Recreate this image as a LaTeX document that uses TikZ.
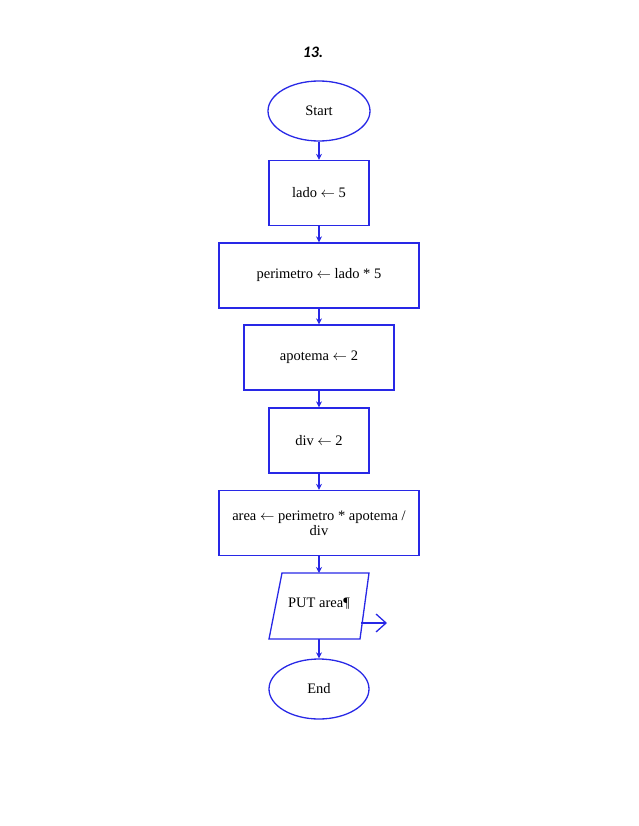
\documentclass[tikz,border=0pt]{standalone}
\usepackage{fontspec}
\setmainfont{Liberation Serif}
\newfontfamily\titlefont{Carlito}
\usetikzlibrary{shapes.geometric,arrows.meta}
\definecolor{fb}{RGB}{40,40,230}
\begin{document}
\begin{tikzpicture}[x=1pt,y=-1pt,
  every node/.style={font=\fontsize{14.5}{15}\selectfont, text=black},
  term/.style={draw=fb, line width=1.3pt, ellipse, minimum width=102pt, minimum height=60pt},
  proc/.style={draw=fb, line width=1.3pt, rectangle, minimum height=65pt, inner sep=1pt},
  conn/.style={draw=fb, line width=1.2pt, -{Stealth[length=6pt,width=6pt]}}]
\useasboundingbox (0,0) rectangle (638,826);
\node[font=\titlefont\bfseries\itshape\fontsize{16}{17}\selectfont] (title) at (313,52) {13.};
\node[term] (start) at (319,111) {Start};
\node[proc, minimum width=100pt] (lado) at (319,193) {lado $\leftarrow$ 5};
\node[proc, minimum width=200pt] (per) at (319,275.5) {perimetro $\leftarrow$ lado * 5};
\node[proc, minimum width=150pt] (apo) at (319,357.5) {apotema $\leftarrow$ 2};
\node[proc, minimum width=100pt] (div) at (319,440.5) {div $\leftarrow$ 2};
\node[proc, minimum width=200pt, align=center] (area) at (319,523) {area $\leftarrow$ perimetro * apotema /\\div};
\coordinate (p1) at (282,573); \coordinate (p2) at (369,573);
\coordinate (p3) at (360,639); \coordinate (p4) at (269,639);
\draw[draw=fb, line width=1.3pt] (p1) -- (p2) -- (p3) -- (p4) -- cycle;
\node (put) at (319,604) {PUT area¶};
\coordinate (ptop) at (319,573); \coordinate (pbot) at (319,639);
\coordinate (oa) at (361,623); \coordinate (ob) at (387,623);
\draw[draw=fb, line width=1.3pt, -{Straight Barb[length=10pt,width=18pt]}] (oa) -- (ob);
\node[term, minimum width=100pt] (end) at (319,689) {End};
\draw[conn] (start) -- (lado);
\draw[conn] (lado) -- (per);
\draw[conn] (per) -- (apo);
\draw[conn] (apo) -- (div);
\draw[conn] (div) -- (area);
\draw[conn] (area) -- (ptop);
\draw[conn] (pbot) -- (end);
\end{tikzpicture}
\end{document}
